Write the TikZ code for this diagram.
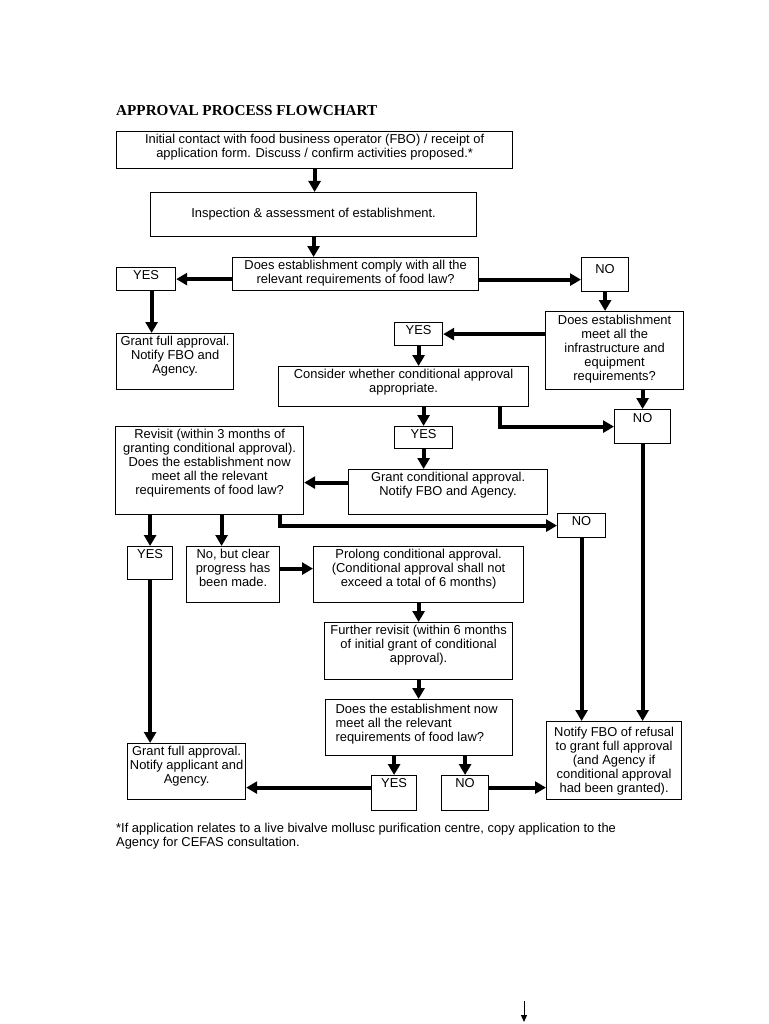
\documentclass[tikz,border=0pt]{standalone}
\usepackage{fontspec}
\setmainfont{Liberation Sans}
\newfontfamily\headfont{Liberation Serif}
\usetikzlibrary{arrows.meta}
\tikzset{
	box/.style={draw, line width=1.2pt, inner sep=0pt, anchor=north west, font=\fontsize{12.9}{14}\selectfont},
	flow/.style={line width=4pt, -{Triangle[length=11pt, width=12pt]}},
}
\def\flowbox(#1)(#2,#3)(#4,#5)#6{\node[box] (#1) at (#2,#3) {\parbox[t][#5pt][t]{#4pt}{\centering\rule{0pt}{12pt}#6}};}

\begin{document}
\begin{tikzpicture}[x=1pt, y=-1pt]
			%%%%% PAGE %%%%%
			\fill[white] (0,0) rectangle (768,1024);
			\useasboundingbox (0,0) rectangle (768,1024);
			
			\node[anchor=base west, inner sep=0pt, font=\headfont\bfseries\fontsize{15.2}{17}\selectfont] (title) at (116,116) {APPROVAL PROCESS FLOWCHART};
			
			%%%%% BOXES %%%%%
			\flowbox(init)(116,131)(396,37){Initial contact with food business operator (FBO) / receipt of\\application form. Discuss / confirm activities proposed.*}
			\flowbox(inspect)(150,192)(326,44){\rule{0pt}{25pt}Inspection \& assessment of establishment.}
			\flowbox(comply)(232,257)(246,33){Does establishment comply with all the\\relevant requirements of food law?}
			\flowbox(yesA)(116,267)(59,23){YES}
			\flowbox(fullA)(116,333)(117,56){Grant full approval.\\Notify FBO and\\Agency.}
			\flowbox(noA)(581,257)(47,34){\rule{0pt}{16pt}NO}
			\flowbox(infra)(545,311)(138,78){\rule{0pt}{13pt}Does establishment\\meet all the\\infrastructure and\\equipment\\requirements?}
			\flowbox(yesB)(394,322)(48,23){YES}
			\flowbox(consider)(278,366)(250,40){Consider whether conditional approval\\appropriate.}
			\flowbox(noB)(614,409)(56,34){\rule{0pt}{13pt}NO}
			\flowbox(yesC)(394,426)(58,22){YES}
			\flowbox(condl)(348,469)(199,45){Grant conditional approval.\\Notify FBO and Agency.}
			\flowbox(revisit)(115,426)(188,88){Revisit (within 3 months of\\granting conditional approval).\\Does the establishment now\\meet all the relevant\\requirements of food law?}
			\flowbox(noC)(557,513)(48,24){NO}
			\flowbox(yesD)(127,546)(45,33){YES}
			\flowbox(progress)(186,546)(93,56){No, but clear\\progress has\\been made.}
			\flowbox(prolong)(313,546)(210,56){Prolong conditional approval.\\(Conditional approval shall not\\exceed a total of 6 months)}
			\flowbox(further)(324,622)(188,57){Further revisit (within 6 months\\of initial grant of conditional\\approval).}
			\flowbox(final)(325,699)(187,56){\raggedright\leftskip=10pt\rule{0pt}{14pt}Does the establishment now\\meet all the relevant\\requirements of food law?}
			\flowbox(yesE)(371,775)(45,35){YES}
			\flowbox(noE)(441,775)(47,35){NO}
			\flowbox(fullB)(127,743)(118,56){Grant full approval.\\Notify applicant and\\Agency.}
			\flowbox(refuse)(546,721)(135,78){\rule{0pt}{15pt}Notify FBO of refusal\\to grant full approval\\(and Agency if\\conditional approval\\had been granted).}
			
			\node[anchor=base west, inner sep=0pt, align=left, font=\fontsize{12.9}{13.5}\selectfont] (note) at (116,846) {*If application relates to a live bivalve mollusc purification centre, copy application to the\\Agency for CEFAS consultation.};
			
			%%%%% ARROWS %%%%%
			\draw[flow] (init.south) -- (init.south |- inspect.north);
			\draw[flow] (inspect.south) -- (inspect.south |- comply.north);
			\draw[flow] (comply.west |- yesA.east) -- (yesA.east);
			\draw[flow] ([xshift=5.5pt]yesA.south) -- ([xshift=5.5pt]yesA.south |- fullA.north);
			\draw[flow] ([yshift=-5.5pt]comply.east) -- ([yshift=-5.5pt]comply.east -| noA.west);
			\draw[flow] (noA.south) -- (noA.south |- infra.north);
			\draw[flow] (infra.west |- yesB.east) -- (yesB.east);
			\draw[flow] (yesB.south) -- (yesB.south |- consider.north);
			\draw[flow] (noB.north |- infra.south) -- (noB.north);
			\draw[flow] ([xshift=96pt]consider.south) |- (noB.west);
			\draw[flow] (yesC.north |- consider.south) -- (yesC.north);
			\draw[flow] (yesC.south) -- (yesC.south |- condl.north);
			\draw[flow] ([yshift=9.5pt]condl.west) -- ([yshift=9.5pt]condl.west -| revisit.east);
			\draw[flow] (yesD.north |- revisit.south) -- (yesD.north);
			\draw[flow] ([xshift=-11.5pt]progress.north |- revisit.south) -- ([xshift=-11.5pt]progress.north);
			\draw[flow] ([xshift=70pt]revisit.south) |- (noC.west);
			\draw[flow] (noC.south) -- (noC.south |- refuse.north);
			\draw[flow] (noB.south) -- (noB.south |- refuse.north);
			\draw[flow] (yesD.south) -- (yesD.south |- fullB.north);
			\draw[flow] ([yshift=6pt]progress.east) -- ([yshift=6pt]progress.east -| prolong.west);
			\draw[flow] (prolong.south) -- (prolong.south |- further.north);
			\draw[flow] (further.south) -- (further.south |- final.north);
			\draw[flow] (yesE.north |- final.south) -- (yesE.north);
			\draw[flow] (noE.north |- final.south) -- (noE.north);
			\draw[flow] ([yshift=5.5pt]yesE.west) -- ([yshift=5.5pt]yesE.west -| fullB.east);
			\draw[flow] ([yshift=5.5pt]noE.east) -- ([yshift=5.5pt]noE.east -| refuse.west);
			
			\coordinate (stub) at (524,1001);
			\coordinate (stubend) at (524,1022);
			\draw[line width=1pt, -{Triangle[length=7pt, width=6pt]}] (stub) -- (stubend);
			%%%%% END %%%%%
\end{tikzpicture}
\end{document}
